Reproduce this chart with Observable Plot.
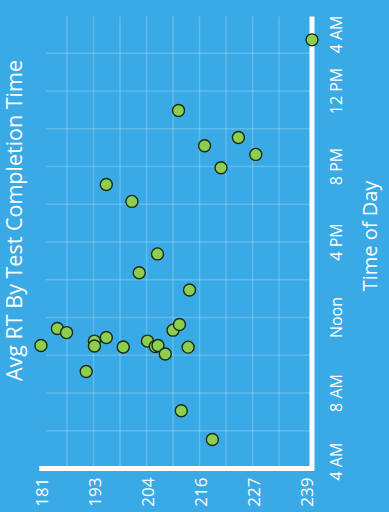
<!DOCTYPE html>
<html>
<head>
<meta charset="utf-8">
<script src="https://cdn.jsdelivr.net/npm/d3@7"></script>
<script src="https://cdn.jsdelivr.net/npm/@observablehq/plot@0.6"></script>
<style>
  html, body { margin: 0; padding: 0; background: #39aae6; }
  #chart { width: 389px; height: 512px; overflow: hidden; }
</style>
</head>
<body>
<div id="chart"></div>
<script>
// Average response time (ms) per test and hour of day the test was completed
// (hours after midnight continue past 24, e.g. 26.7 = 2:42 AM next day)
const avgRT = [181.1, 184.7, 186.7, 191.0, 192.8, 192.8, 195.4, 199.1, 204.4, 206.1,
               206.7, 208.3, 210.0, 211.4, 213.3, 213.6, 202.6, 206.6, 201.0, 195.4,
               211.2, 216.9, 224.3, 228.1, 220.5, 240.4, 211.8, 218.6];
const completionHour = [10.52, 11.42, 11.20, 9.14, 10.75, 10.49, 10.94, 10.44, 10.75, 10.46,
                        10.52, 10.07, 11.33, 11.63, 10.43, 13.46, 14.37, 15.37, 18.15, 19.05,
                        22.97, 21.10, 21.54, 20.64, 19.93, 26.71, 7.06, 5.54];

const rtDomain = [181, 240.4];
const hourDomain = [4, 28];
const rtTicks = [181, 192.6, 204.2, 215.8, 227.4, 239];
const rtTickLabels = ["181", "193", "204", "216", "227", "239"];
const rtGrid = [186.8, 192.6, 198.4, 204.2, 210.0, 215.8, 221.6, 227.4, 233.2];
const hourTicks = [4, 8, 12, 16, 20, 24, 28];
const hourTickLabels = ["4 AM", "8 AM", "Noon", "4 PM", "8 PM", "12 PM", "4 AM"];
const hourGrid = [6, 8, 10, 12, 14, 16, 18, 20, 22, 24, 26];
const titleText = "Avg RT By Test Completion Time";
const yTitleText = "Time of Day";

const points = avgRT.map((rt, i) => ({rt, hour: completionHour[i]}));
const xTicks = rtTicks.map((v, i) => ({v, label: rtTickLabels[i]}));
const yTicks = hourTicks.map((v, i) => ({v, label: hourTickLabels[i]}));

const font = "'Open Sans', 'Noto Sans', sans-serif";
const gridColor = "rgba(255,255,255,0.2)";

const chart = Plot.plot({
  width: 389,
  height: 512,
  marginLeft: 40,
  marginRight: 77.5,
  marginTop: 15,
  marginBottom: 44,
  style: {background: "#39aae6", fontFamily: font, color: "white", overflow: "visible"},
  x: {domain: rtDomain, axis: null},
  y: {domain: hourDomain, axis: null},
  marks: [
    Plot.ruleX(rtGrid, {x: d => d, stroke: gridColor, strokeWidth: 1.5, insetTop: 1.5}),
    Plot.ruleY(hourGrid, {y: d => d, stroke: gridColor, strokeWidth: 1.5, insetLeft: 6}),
    Plot.ruleY([hourDomain[0]], {y: d => d, stroke: "white", strokeWidth: 5, insetLeft: -0.7, insetRight: -2.5}),
    Plot.ruleX([rtDomain[1]], {x: d => d, stroke: "white", strokeWidth: 5, insetTop: 1.5, insetBottom: -2.5}),
    Plot.dot(points, {x: "rt", y: "hour", r: 6, fill: "#8dcd50", stroke: "#1b2a12", strokeWidth: 1.4}),
    // x tick labels
    Plot.text(xTicks, {x: "v", text: "label", frameAnchor: "bottom", rotate: -90, textAnchor: "end",
      dx: 7, dy: 9, fill: "white", fontSize: 17, fontFamily: font}),
    // y tick labels (interior)
    Plot.text(yTicks.slice(1, -1), {y: "v", text: "label", frameAnchor: "right", rotate: -90, textAnchor: "middle",
      dx: 25, fill: "white", fontSize: 16, fontFamily: font}),
    Plot.text(yTicks.slice(0, 1), {y: "v", text: "label", frameAnchor: "right", rotate: -90, textAnchor: "start",
      dx: 25, dy: 12, fill: "white", fontSize: 16, fontFamily: font}),
    Plot.text(yTicks.slice(-1), {y: "v", text: "label", frameAnchor: "right", rotate: -90, textAnchor: "end",
      dx: 25, dy: 0, fill: "white", fontSize: 16, fontFamily: font}),
    // titles
    Plot.text([titleText], {text: d => d, frameAnchor: "left", rotate: -90, textAnchor: "middle",
      dx: -25.5, dy: -21.5, fill: "white", fontSize: 21.5, fontFamily: font}),
    Plot.text([yTitleText], {text: d => d, frameAnchor: "right", rotate: -90, textAnchor: "middle",
      dx: 58.5, dy: -6, fill: "white", fontSize: 20, fontFamily: font})
  ]
});
document.getElementById("chart").appendChild(chart);
</script>
</body>
</html>
